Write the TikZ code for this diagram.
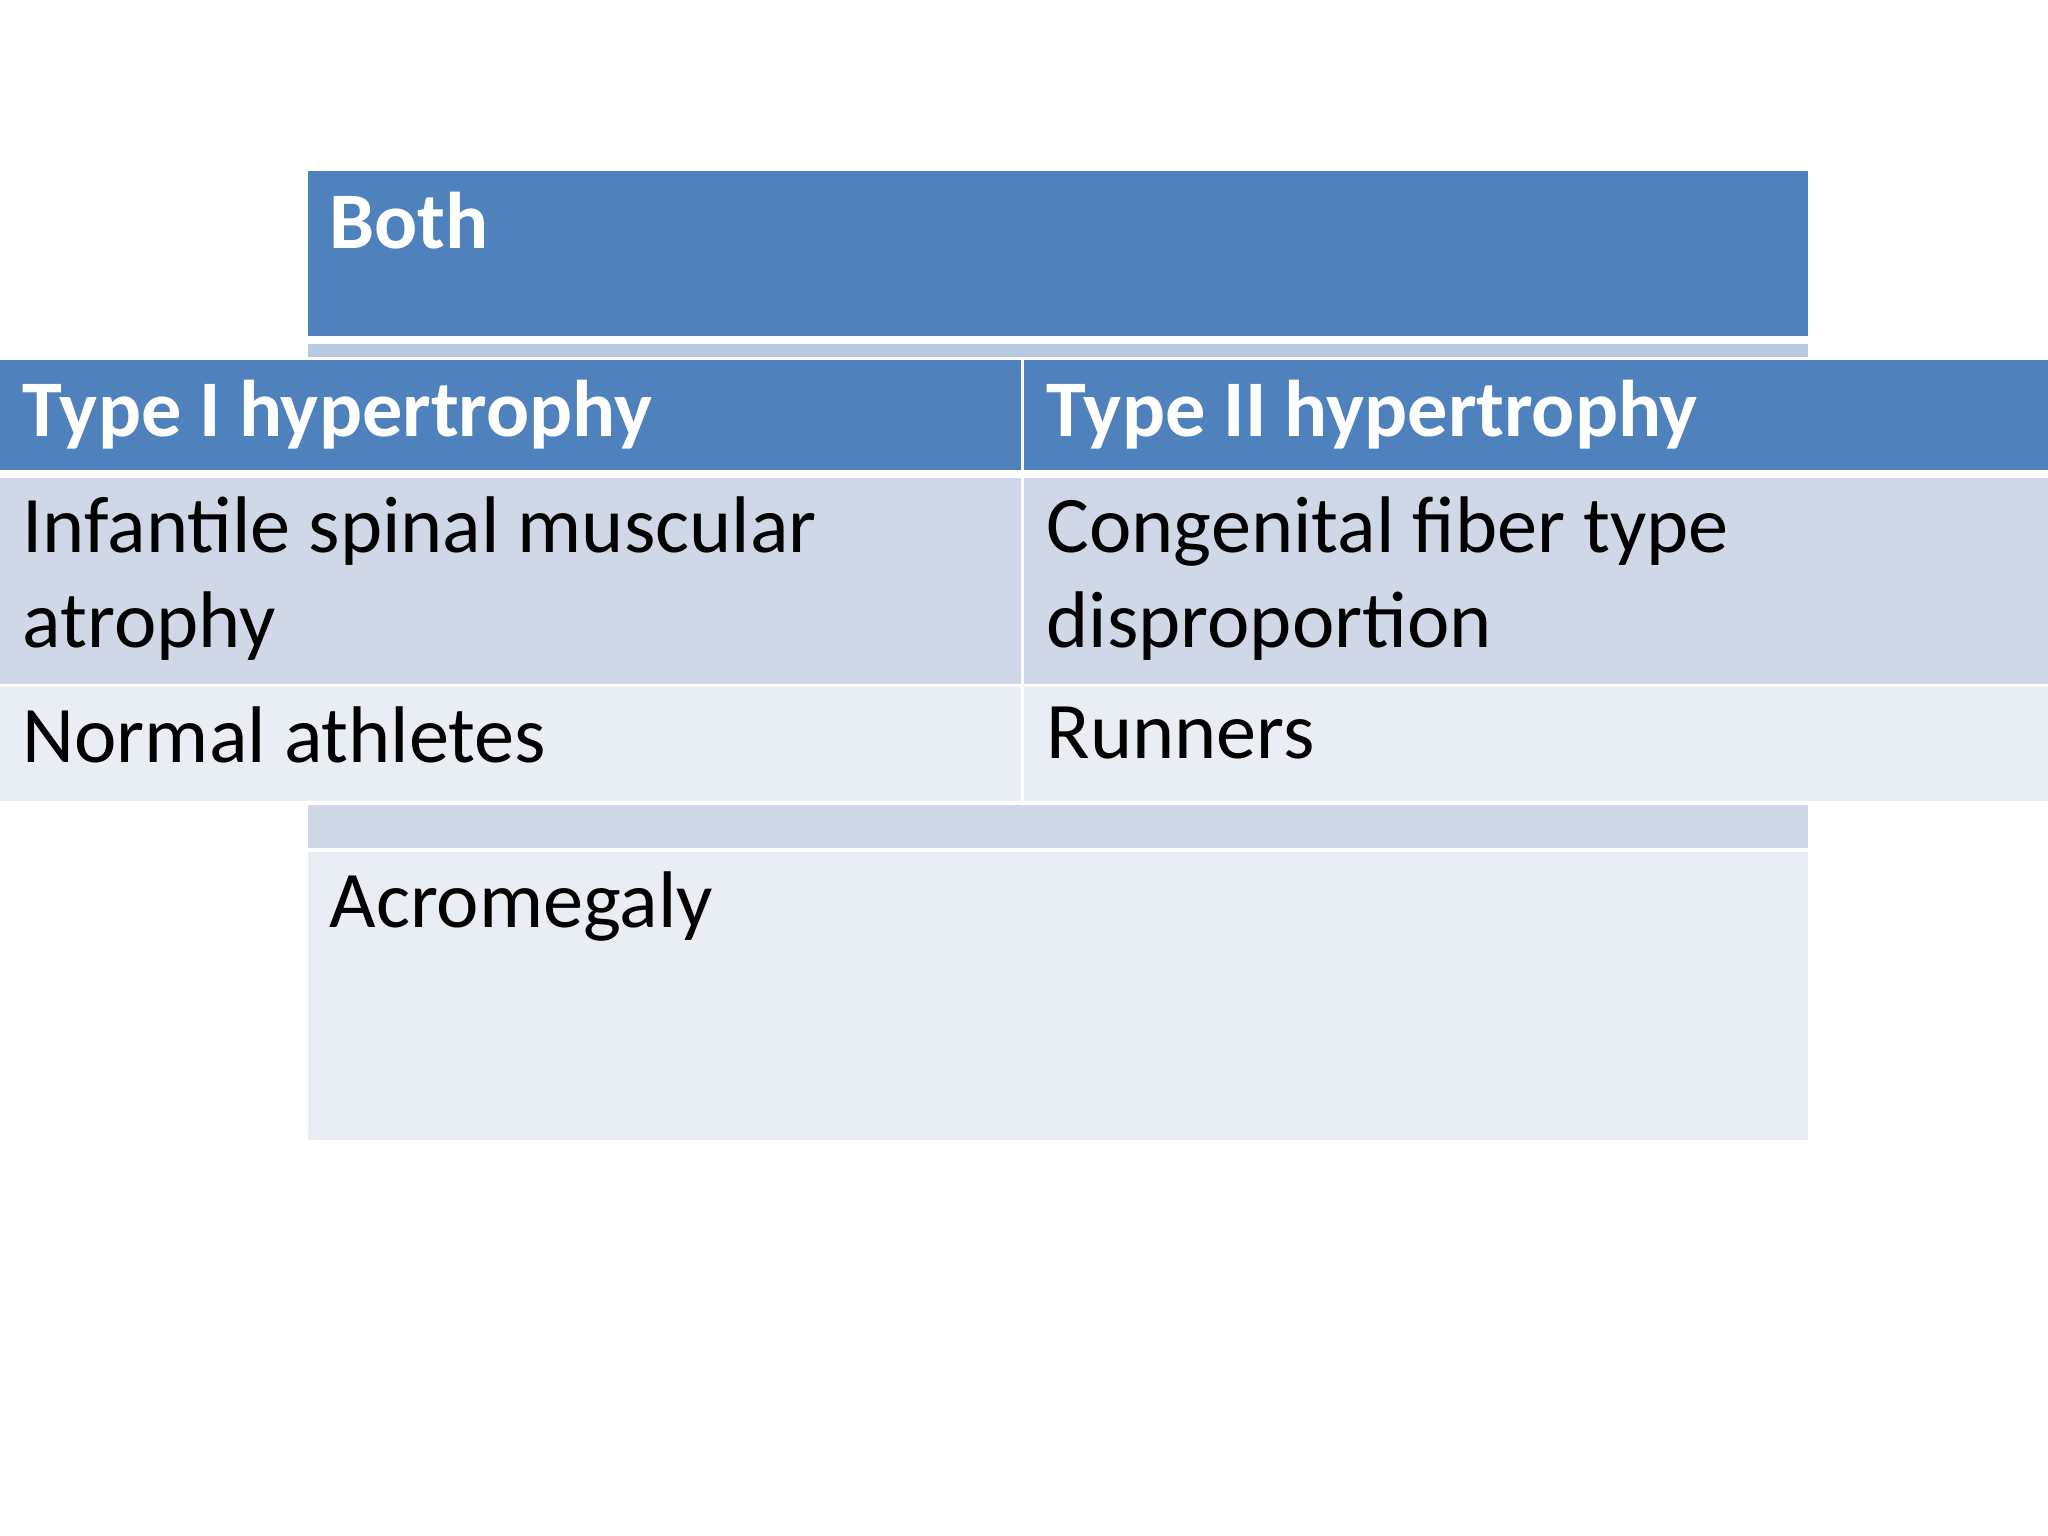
\documentclass[tikz,border=0pt]{standalone}
\usepackage{fontspec}
\setmainfont{Carlito}
\definecolor{hdr}{HTML}{4F81BD}
\definecolor{rowa}{HTML}{D0D8E8}
\definecolor{rowb}{HTML}{E9EDF4}
\definecolor{strip}{HTML}{B9C9E0}
\begin{document}
\begin{tikzpicture}[x=0.02cm,y=-0.02cm,
  cell/.style={anchor=north west,inner sep=0pt,align=left,font=\fontsize{35}{41.5}\selectfont},
  hcell/.style={cell,text=white,font=\fontsize{35}{41.5}\selectfont\bfseries}]
\useasboundingbox (0,0) rectangle (1568,1176);
\fill[white] (0,0) rectangle (1568,1176);
\fill[hdr] (236,131) rectangle (1384,257);
\fill[strip] (236,263) rectangle (1384,273);
\fill[hdr] (0,276) rectangle (1568,360);
\fill[rowa] (0,366) rectangle (1568,524);
\fill[rowb] (0,526) rectangle (1568,613);
\draw[white,line width=1.2pt] (783,276) -- (783,613);
\fill[rowa] (236,616) rectangle (1384,649);
\fill[rowb] (236,652) rectangle (1384,873);
\node[hcell] (both) at (252,147) {Both};
\node[hcell] (t1) at (17,291) {Type I hypertrophy};
\node[hcell] (t2) at (801,291) {Type II hypertrophy};
\node[cell] (a1) at (17,380) {Infantile spinal muscular\\atrophy};
\node[cell] (a2) at (801,380) {Congenital fiber type\\disproportion};
\node[cell] (b1) at (17,541) {Normal athletes};
\node[cell] (b2) at (801,541) {Runners};
\node[cell] (ac) at (252,667) {Acromegaly};
\end{tikzpicture}
\end{document}
